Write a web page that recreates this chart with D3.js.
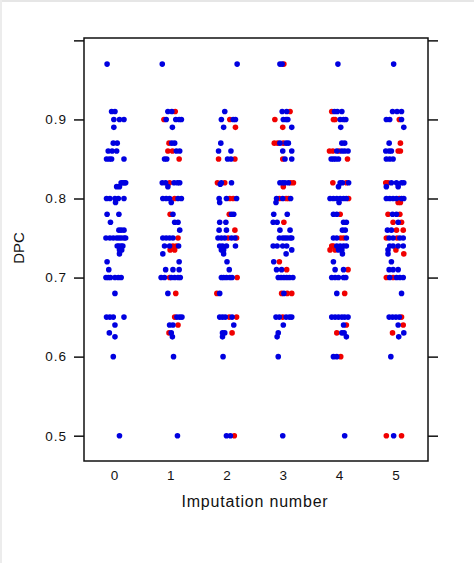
<!DOCTYPE html>
<html>
    <head>
        <script src="https://d3js.org/d3.v7.min.js"></script>
        <style>
            body{margin:0;background:#fff;}
            text{font-family:"Liberation Sans", Arial, sans-serif;fill:#111;}
        </style>
    </head>
    <body>
        <svg height="563" width="474" id="chart"></svg>
        <script>
            // rows: [imputation, DPC, [horizontal jitter of each point]]
            const observed=[
                [0,0.97,[-0.13]],[0,0.91,[-0.05,0.01]],[0,0.90,[-0.01,0.09,0.17]],[0,0.89,[-0.01]],
                [0,0.87,[-0.02,0.05]],[0,0.86,[-0.11,-0.04,0.04]],[0,0.85,[-0.14,-0.09,-0.05,0.17]],
                [0,0.82,[0.12,0.15,0.18,0.20]],[0,0.815,[0.04,0.09]],[0,0.80,[-0.14,-0.08,0.01,0.07,0.17]],
                [0,0.795,[0.02]],[0,0.78,[-0.13,0.08]],[0,0.77,[-0.07]],[0,0.76,[0.08,0.12,0.17]],
                [0,0.75,[-0.15,-0.08,-0.02,0.04,0.08,0.12,0.17,0.20]],[0,0.74,[0.05,0.08,0.12,0.15]],
                [0,0.735,[0.09,0.13]],[0,0.73,[0.09]],[0,0.72,[-0.13]],[0,0.71,[-0.10]],
                [0,0.70,[-0.15,-0.11,-0.07,0.01,0.07,0.12]],[0,0.68,[0.01]],[0,0.65,[-0.14,-0.08,-0.02,0.17]],
                [0,0.64,[0.01]],[0,0.63,[-0.09]],[0,0.625,[0.01]],[0,0.60,[-0.02]],[0,0.50,[0.09]],

                [1,0.97,[-0.15]],[1,0.91,[-0.05,0.02]],[1,0.90,[-0.08,0.09,0.15,0.19]],[1,0.89,[0.03]],
                [1,0.87,[0.02,0.07]],[1,0.86,[0.10,0.16]],[1,0.85,[-0.11,-0.07]],
                [1,0.82,[-0.15,-0.09,0.06,0.12,0.16]],[1,0.815,[-0.05]],[1,0.80,[-0.14,-0.08,-0.02,0.13,0.19]],
                [1,0.795,[0.01]],[1,0.78,[0.04]],[1,0.77,[0.07,0.13]],[1,0.76,[0.16]],
                [1,0.75,[-0.14,-0.08,-0.02,0.04]],[1,0.74,[-0.11,-0.02,0.14]],[1,0.73,[-0.14]],
                [1,0.72,[0.15]],[1,0.71,[-0.09,0.04,0.15]],[1,0.70,[-0.17,-0.11,0.01,0.07,0.13,0.17]],
                [1,0.68,[-0.05]],[1,0.65,[0.11,0.16,0.20]],[1,0.64,[-0.02,0.04]],[1,0.63,[0.01]],
                [1,0.625,[0.03]],[1,0.60,[0.05]],[1,0.50,[0.12]],

                [2,0.97,[0.18]],[2,0.91,[-0.04]],[2,0.90,[-0.10,0.11,0.15]],[2,0.89,[-0.06]],
                [2,0.87,[-0.11]],[2,0.86,[-0.15,0.07]],[2,0.85,[0.01,0.07]],[2,0.82,[-0.10,0.08]],
                [2,0.818,[-0.12]],[2,0.80,[-0.14,-0.01,0.17]],[2,0.795,[-0.13]],[2,0.78,[0.08,0.12]],
                [2,0.77,[-0.13,-0.02]],[2,0.76,[-0.14,-0.01]],[2,0.75,[-0.16,-0.10,-0.04,0.08,0.14]],
                [2,0.74,[-0.13,-0.08,-0.01,0.15]],[2,0.735,[-0.10,-0.06]],[2,0.73,[-0.06]],[2,0.72,[0]],
                [2,0.71,[0.04]],[2,0.70,[-0.10,-0.06,-0.01,0.05,0.09]],[2,0.68,[-0.13]],
                [2,0.65,[-0.13,-0.08,-0.03,0.09]],[2,0.64,[0.12]],[2,0.63,[-0.08,-0.04]],
                [2,0.625,[-0.08]],[2,0.60,[-0.07]],[2,0.50,[-0.01,0.06]],

                [3,0.97,[-0.06,-0.02]],[3,0.91,[-0.02,0.06]],[3,0.90,[0,0.05,0.08]],[3,0.89,[0.15]],
                [3,0.87,[-0.06,0.05,0.09]],[3,0.86,[-0.01,0.15]],[3,0.85,[0.03,0.15]],
                [3,0.82,[-0.06,-0.01,0.03,0.09]],[3,0.80,[-0.12,-0.01,0.13]],[3,0.795,[-0.13]],
                [3,0.78,[-0.17,0.07]],[3,0.77,[-0.18,-0.11]],[3,0.76,[-0.06,0.12]],
                [3,0.75,[-0.07,-0.01,0.03,0.07,0.12,0.15]],[3,0.74,[-0.18,-0.11,-0.01,0.06]],
                [3,0.735,[0.15]],[3,0.73,[0.05]],[3,0.72,[-0.17]],[3,0.71,[-0.12,-0.03]],
                [3,0.70,[-0.09,-0.04,0.01,0.06,0.11,0.17]],[3,0.68,[0.01]],
                [3,0.65,[-0.13,-0.07,0.05,0.11,0.15]],[3,0.64,[0]],[3,0.63,[-0.09]],[3,0.625,[-0.11]],
                [3,0.60,[-0.09]],[3,0.50,[-0.01]],

                [4,0.97,[-0.03]],[4,0.91,[-0.09,-0.04,0.04]],[4,0.90,[0.01,0.07,0.11]],[4,0.89,[0.02]],
                [4,0.87,[0.04,0.09]],[4,0.86,[-0.05,0.04,0.09,0.15]],[4,0.85,[-0.15,-0.11,-0.07,-0.02]],
                [4,0.82,[0.01,0.05,0.16]],[4,0.815,[-0.02]],[4,0.80,[-0.17,-0.11,-0.05,0.01,0.07,0.12]],
                [4,0.795,[-0.01]],[4,0.78,[-0.11,-0.05]],[4,0.77,[0.07,0.12]],[4,0.76,[0.05,0.10]],
                [4,0.75,[-0.11,-0.05,0.12]],[4,0.74,[-0.05,0.01,0.07,0.12]],[4,0.735,[-0.02,0.04]],
                [4,0.73,[0.05]],[4,0.72,[-0.11]],[4,0.71,[-0.08,0.07]],
                [4,0.70,[-0.14,-0.08,-0.02,0.07,0.11]],[4,0.68,[-0.05]],
                [4,0.65,[-0.14,-0.08,-0.02,0.04,0.09,0.15]],[4,0.64,[0.07]],[4,0.63,[0.04,0.08]],
                [4,0.625,[0.12]],[4,0.60,[-0.11,-0.05]],[4,0.50,[0.09]],

                [5,0.97,[-0.04]],[5,0.91,[-0.06,0.02,0.10]],[5,0.90,[-0.17,-0.11,0.10]],[5,0.89,[0.14]],
                [5,0.87,[-0.12]],[5,0.86,[-0.18,-0.12,-0.08]],[5,0.85,[-0.17,-0.11,-0.05]],
                [5,0.82,[-0.08,0.01,0.10,0.14]],[5,0.815,[-0.17,0.04]],
                [5,0.80,[-0.17,-0.11,-0.05,0.01,0.10,0.14]],[5,0.78,[-0.06,0.01]],[5,0.77,[0.04]],
                [5,0.76,[-0.15,-0.08]],[5,0.75,[-0.12,-0.05,0.07,0.13]],[5,0.74,[-0.11,-0.05,0.04,0.13]],
                [5,0.735,[-0.14]],[5,0.73,[-0.14]],[5,0.72,[-0.08]],[5,0.71,[-0.12,-0.05,0.04]],
                [5,0.70,[-0.11,0.01,0.07,0.13]],[5,0.68,[0.10]],[5,0.65,[-0.12,-0.06,0,0.06]],
                [5,0.64,[0.04]],[5,0.63,[0.14]],[5,0.625,[0.05]],[5,0.60,[-0.09]],[5,0.50,[-0.04]]
            ];

            const imputed=[
                [1,0.91,[0.08]],[1,0.90,[-0.12]],[1,0.87,[-0.03]],[1,0.86,[-0.05,0.03]],[1,0.85,[0.15]],
                [1,0.82,[-0.02]],[1,0.80,[0.07]],[1,0.78,[-0.01]],[1,0.75,[0.13]],[1,0.74,[0.04,0.10]],
                [1,0.735,[-0.01,0.07]],[1,0.70,[-0.02]],[1,0.68,[0.09]],[1,0.65,[0.07]],[1,0.64,[0.13]],
                [1,0.63,[-0.03]],

                [2,0.90,[0.05]],[2,0.89,[0.15]],[2,0.85,[-0.15,0.14]],[2,0.82,[-0.17,-0.04]],
                [2,0.80,[0.05,0.11]],[2,0.78,[0.04]],[2,0.76,[0.14]],[2,0.75,[0.02,0.17]],[2,0.70,[0.18]],
                [2,0.68,[-0.18]],[2,0.65,[0.04,0.17]],[2,0.63,[0.09]],[2,0.50,[0.13]],

                [3,0.97,[0.01]],[3,0.91,[0.12]],[3,0.90,[-0.15]],[3,0.89,[-0.01]],[3,0.87,[-0.16,-0.10,0]],
                [3,0.85,[-0.01]],[3,0.82,[0.13,0.18]],[3,0.815,[0]],[3,0.80,[-0.07,0.05,0.09]],
                [3,0.77,[0.01]],[3,0.72,[-0.07]],[3,0.71,[0.06]],[3,0.68,[-0.03,0.07,0.15]],[3,0.65,[-0.01]],

                [4,0.91,[-0.14]],[4,0.90,[-0.11,-0.08]],[4,0.86,[-0.18,-0.12,-0.01]],[4,0.85,[0.14]],
                [4,0.82,[-0.12,0.12]],[4,0.80,[0.16]],[4,0.78,[0.01]],[4,0.75,[0.02,0.07]],
                [4,0.74,[-0.14,-0.11]],[4,0.735,[-0.17,-0.08]],[4,0.71,[0.15]],[4,0.68,[0.09]],
                [4,0.64,[0.12]],[4,0.63,[-0.05]],[4,0.60,[0.02]],

                [5,0.90,[0.06]],[5,0.87,[0.08]],[5,0.86,[0.04,0.08]],[5,0.82,[-0.18,-0.14]],[5,0.80,[0.06]],
                [5,0.795,[0.04,0.08]],[5,0.78,[-0.14,0.07]],[5,0.77,[-0.05,0.10]],[5,0.76,[0.01,0.13]],
                [5,0.75,[-0.17,0.02]],[5,0.735,[0]],[5,0.73,[0.14]],[5,0.70,[-0.17,-0.05]],[5,0.65,[0.10]],
                [5,0.64,[0.13]],[5,0.63,[-0.06]],[5,0.50,[-0.17,0.10]]
            ];

            const xTicks=[0,1,2,3,4,5];
            const yTicks=[0.5,0.6,0.7,0.8,0.9,1.0];
            const yLabels=["0.5","0.6","0.7","0.8","0.9",""];

            let svg=d3.select("#chart");
            svg.append("rect").attr("width",474).attr("height",563).attr("fill","#fff");
            // faint scan border along top and left edge
            svg.append("rect").attr("width",474).attr("height",2).attr("fill","#e6e6e6");
            svg.append("rect").attr("width",2).attr("height",563).attr("fill","#ececec");

            let x=d3.scaleLinear().domain([-0.54,5.57]).range([84,428]);
            let y=d3.scaleLinear().domain([0.468,1.003]).range([461,38]);

            const flatten=rows=>rows.flatMap(r=>r[2].map(j=>({imp:r[0]+j, dpc:r[1]})));

            // left and right axes, lattice style
            let leftAxis=svg.append("g").attr("transform","translate(84,0)")
                .call(d3.axisLeft(y).tickValues(yTicks).tickSize(10).tickPadding(7)
                    .tickFormat((d,i)=>yLabels[i]));
            let rightAxis=svg.append("g").attr("transform","translate(428,0)")
                .call(d3.axisRight(y).tickValues(yTicks).tickSize(10).tickFormat(""));
            let bottomAxis=svg.append("g").attr("transform","translate(0,461)")
                .call(d3.axisBottom(x).tickValues(xTicks).tickSize(0).tickPadding(9).tickFormat(d3.format("d")));
            [leftAxis,rightAxis,bottomAxis].forEach(a=>{
                a.select(".domain").remove();
                a.selectAll("line").attr("stroke","#111").attr("stroke-width",1.5);
                a.selectAll("text").style("font-size","13.5px").style("letter-spacing","1px")
                    .attr("fill","#111");
            });

            svg.append("rect").attr("x",84).attr("y",38).attr("width",344).attr("height",423)
                .attr("fill","none").attr("stroke","#111").attr("stroke-width",1.5);

            let points=svg.append("g");
            points.selectAll(".imp").data(flatten(imputed)).enter().append("circle")
                .attr("class","imp")
                .attr("cx",d=>x(d.imp)).attr("cy",d=>y(d.dpc)).attr("r",2.8)
                .attr("fill","#f00000");
            points.selectAll(".obs").data(flatten(observed)).enter().append("circle")
                .attr("class","obs")
                .attr("cx",d=>x(d.imp)).attr("cy",d=>y(d.dpc)).attr("r",2.8)
                .attr("fill","#0000e0");

            svg.append("text").attr("x",255).attr("y",507).attr("text-anchor","middle")
                .style("font-size","16px").style("letter-spacing","0.8px")
                .text("Imputation number");
            svg.append("text").attr("transform","translate(24,248) rotate(-90)").attr("text-anchor","middle")
                .style("font-size","15px")
                .text("DPC");
        </script>
    </body>
</html>
